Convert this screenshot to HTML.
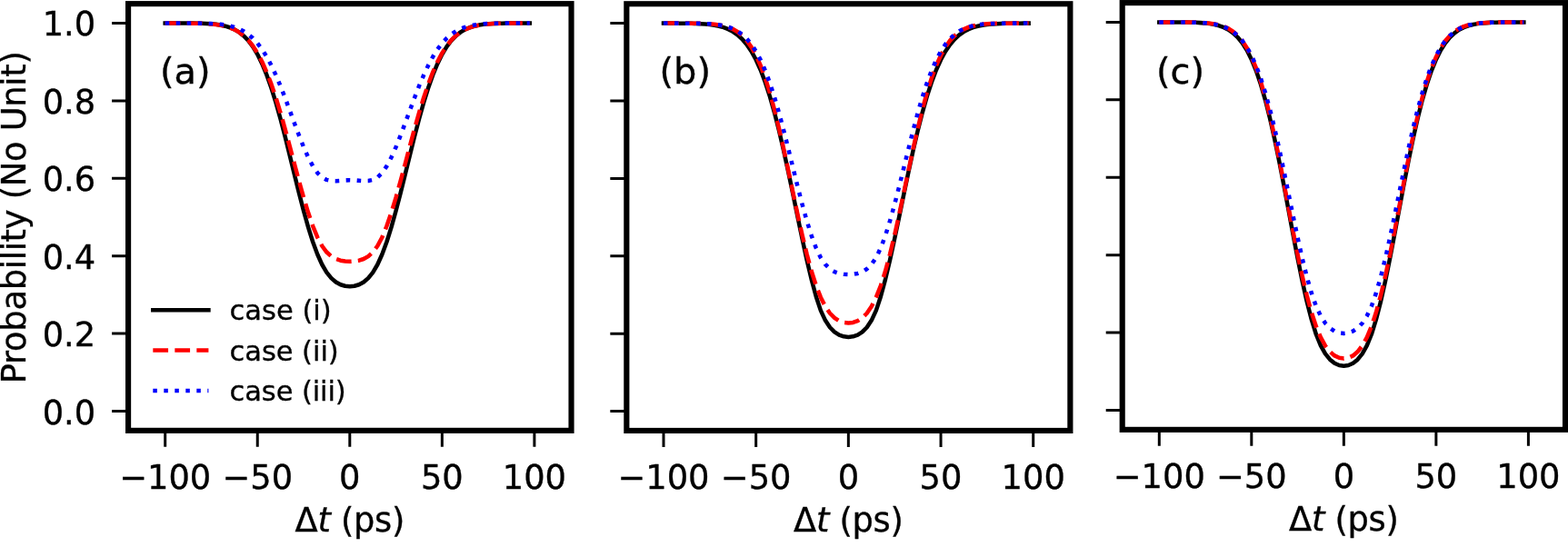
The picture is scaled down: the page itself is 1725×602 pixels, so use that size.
<!DOCTYPE html>
<html><head><meta charset="utf-8"><title>HOM dips</title>
<style>html,body{margin:0;padding:0;background:#fff;}svg{display:block;}text{font-family:'DejaVu Sans','Liberation Sans',sans-serif;fill:#000;stroke:#000;stroke-width:0.35px;}</style></head><body>
<svg width="1725" height="602" viewBox="0 0 1725 602">
<rect x="0" y="0" width="1725" height="602" fill="#fff"/>
<path d="M181.7 25.5 L186.78 25.51 L191.85 25.51 L196.93 25.52 L202.01 25.54 L207.09 25.57 L212.16 25.61 L217.24 25.7 L222.32 25.83 L227.4 26.03 L232.47 26.36 L237.55 26.86 L242.63 27.6 L247.71 28.68 L252.78 30.24 L257.86 32.42 L262.94 35.4 L268.02 39.41 L273.1 44.67 L278.17 51.4 L283.25 59.83 L288.33 70.15 L293.4 82.48 L298.48 96.84 L303.56 113.16 L308.64 131.22 L313.72 150.69 L318.79 171.1 L323.87 191.88 L328.95 212.39 L334.02 232.01 L339.1 250.14 L344.18 266.27 L349.26 280.05 L354.34 291.23 L359.41 299.81 L364.49 306.12 L369.57 310.48 L374.64 313.27 L379.72 314.79 L384.8 315.28 L389.88 314.79 L394.96 313.27 L400.03 310.48 L405.11 306.12 L410.19 299.81 L415.26 291.23 L420.34 280.05 L425.42 266.27 L430.5 250.14 L435.58 232.01 L440.65 212.39 L445.73 191.88 L450.81 171.1 L455.88 150.69 L460.96 131.22 L466.04 113.16 L471.12 96.84 L476.2 82.48 L481.27 70.15 L486.35 59.83 L491.43 51.4 L496.5 44.67 L501.58 39.41 L506.66 35.4 L511.74 32.42 L516.82 30.24 L521.89 28.68 L526.97 27.6 L532.05 26.86 L537.12 26.36 L542.2 26.03 L547.28 25.83 L552.36 25.7 L557.44 25.61 L562.51 25.57 L567.59 25.54 L572.67 25.52 L577.75 25.51 L582.82 25.51" fill="none" stroke="#000000" stroke-width="4.53" stroke-linejoin="round" stroke-linecap="square"/>
<path d="M181.7 25.5 L186.78 25.51 L191.85 25.52 L196.93 25.53 L202.01 25.55 L207.09 25.58 L212.16 25.64 L217.24 25.73 L222.32 25.88 L227.4 26.1 L232.47 26.45 L237.55 26.96 L242.63 27.72 L247.71 28.81 L252.78 30.36 L257.86 32.49 L262.94 35.37 L268.02 39.2 L273.1 44.18 L278.17 50.51 L283.25 58.39 L288.33 67.98 L293.4 79.39 L298.48 92.64 L303.56 107.68 L308.64 124.32 L313.72 142.26 L318.79 161.07 L323.87 180.25 L328.95 199.21 L334.02 217.33 L339.1 234.04 L344.18 248.81 L349.26 261.2 L354.34 270.75 L359.41 277.52 L364.49 282.12 L369.57 285.02 L374.64 286.69 L379.72 287.52 L384.8 287.77 L389.88 287.52 L394.96 286.69 L400.03 285.02 L405.11 282.12 L410.19 277.52 L415.26 270.75 L420.34 261.2 L425.42 248.81 L430.5 234.04 L435.58 217.33 L440.65 199.21 L445.73 180.25 L450.81 161.07 L455.88 142.26 L460.96 124.32 L466.04 107.68 L471.12 92.64 L476.2 79.39 L481.27 67.98 L486.35 58.39 L491.43 50.51 L496.5 44.18 L501.58 39.2 L506.66 35.37 L511.74 32.49 L516.82 30.36 L521.89 28.81 L526.97 27.72 L532.05 26.96 L537.12 26.45 L542.2 26.1 L547.28 25.88 L552.36 25.73 L557.44 25.64 L562.51 25.58 L567.59 25.55 L572.67 25.53 L577.75 25.52 L582.82 25.51" fill="none" stroke="#ff0000" stroke-width="4.53" stroke-linejoin="round" stroke-linecap="butt" stroke-dasharray="16.76 7.25"/>
<path d="M181.7 25.5 L186.78 25.5 L191.85 25.51 L196.93 25.51 L202.01 25.52 L207.09 25.54 L212.16 25.57 L217.24 25.62 L222.32 25.71 L227.4 25.84 L232.47 26.04 L237.55 26.35 L242.63 26.82 L247.71 27.5 L252.78 28.49 L257.86 29.87 L262.94 31.77 L268.02 34.34 L273.1 37.72 L278.17 42.08 L283.25 47.57 L288.33 54.33 L293.4 62.46 L298.48 71.98 L303.56 82.85 L308.64 94.93 L313.72 107.98 L318.79 121.65 L323.87 135.51 L328.95 149.07 L334.02 161.81 L339.1 173.22 L344.18 182.87 L349.26 190.35 L354.34 195.21 L359.41 197.88 L364.49 199 L369.57 199.14 L374.64 198.8 L379.72 198.4 L384.8 198.24 L389.88 198.4 L394.96 198.8 L400.03 199.14 L405.11 199 L410.19 197.88 L415.26 195.21 L420.34 190.35 L425.42 182.87 L430.5 173.22 L435.58 161.81 L440.65 149.07 L445.73 135.51 L450.81 121.65 L455.88 107.98 L460.96 94.93 L466.04 82.85 L471.12 71.98 L476.2 62.46 L481.27 54.33 L486.35 47.57 L491.43 42.08 L496.5 37.72 L501.58 34.34 L506.66 31.77 L511.74 29.87 L516.82 28.49 L521.89 27.5 L526.97 26.82 L532.05 26.35 L537.12 26.04 L542.2 25.84 L547.28 25.71 L552.36 25.62 L557.44 25.57 L562.51 25.54 L567.59 25.52 L572.67 25.51 L577.75 25.51 L582.82 25.5" fill="none" stroke="#0000ff" stroke-width="4.53" stroke-linejoin="round" stroke-linecap="butt" stroke-dasharray="4.53 7.47"/>
<rect x="141.08" y="4.15" width="487.44" height="469.7" fill="none" stroke="#000" stroke-width="6.15" stroke-linejoin="miter"/>
<path d="M123.08 452.5H141.08M123.08 367.1H141.08M123.08 281.7H141.08M123.08 196.3H141.08M123.08 110.9H141.08M123.08 25.5H141.08M181.7 473.85V491.85M283.25 473.85V491.85M384.8 473.85V491.85M486.35 473.85V491.85M587.9 473.85V491.85" stroke="#000" stroke-width="3" fill="none"/>
<text x="181.7" y="537.9" font-size="36.8" text-anchor="middle">−100</text>
<text x="283.25" y="537.9" font-size="36.8" text-anchor="middle">−50</text>
<text x="384.8" y="537.9" font-size="36.8" text-anchor="middle">0</text>
<text x="486.35" y="537.9" font-size="36.8" text-anchor="middle">50</text>
<text x="587.9" y="537.9" font-size="36.8" text-anchor="middle">100</text>
<text x="105.2" y="467" font-size="36.8" text-anchor="end">0.0</text>
<text x="105.2" y="381" font-size="36.8" text-anchor="end">0.2</text>
<text x="105.2" y="296" font-size="36.8" text-anchor="end">0.4</text>
<text x="105.2" y="210" font-size="36.8" text-anchor="end">0.6</text>
<text x="105.2" y="125" font-size="36.8" text-anchor="end">0.8</text>
<text x="105.2" y="39" font-size="36.8" text-anchor="end">1.0</text>
<text x="324.5" y="584.9" font-size="36.8" textLength="120.8" lengthAdjust="spacing">Δ<tspan font-style="italic">t</tspan> (ps)</text>
<text x="176" y="92.4" font-size="39.9">(a)</text>
<path d="M730 25.61 L735.08 25.62 L740.17 25.63 L745.25 25.66 L750.34 25.69 L755.42 25.75 L760.5 25.85 L765.59 25.99 L770.67 26.21 L775.75 26.55 L780.84 27.04 L785.92 27.75 L791 28.76 L796.09 30.19 L801.17 32.15 L806.26 34.81 L811.34 38.36 L816.42 42.99 L821.51 48.95 L826.59 56.46 L831.67 65.75 L836.76 77.03 L841.84 90.46 L846.93 106.13 L852.01 124.02 L857.09 144.02 L862.18 165.89 L867.26 189.25 L872.35 213.58 L877.43 238.27 L882.51 262.63 L887.6 285.9 L892.68 307.35 L897.76 326.22 L902.85 341.63 L907.93 352.59 L913.01 360.28 L918.1 365.43 L923.18 368.65 L928.27 370.37 L933.35 370.92 L938.43 370.37 L943.52 368.65 L948.6 365.43 L953.69 360.28 L958.77 352.59 L963.85 341.63 L968.94 326.22 L974.02 307.35 L979.1 285.9 L984.19 262.63 L989.27 238.27 L994.36 213.58 L999.44 189.25 L1004.52 165.89 L1009.61 144.02 L1014.69 124.02 L1019.77 106.13 L1024.86 90.46 L1029.94 77.03 L1035.03 65.75 L1040.11 56.46 L1045.19 48.95 L1050.28 42.99 L1055.36 38.36 L1060.44 34.81 L1065.53 32.15 L1070.61 30.19 L1075.69 28.76 L1080.78 27.75 L1085.86 27.04 L1090.95 26.55 L1096.03 26.21 L1101.11 25.99 L1106.2 25.85 L1111.28 25.75 L1116.37 25.69 L1121.45 25.66 L1126.53 25.63 L1131.62 25.62" fill="none" stroke="#000000" stroke-width="4.53" stroke-linejoin="round" stroke-linecap="square"/>
<path d="M730 25.6 L735.08 25.6 L740.17 25.61 L745.25 25.61 L750.34 25.62 L755.42 25.64 L760.5 25.68 L765.59 25.74 L770.67 25.85 L775.75 26.02 L780.84 26.3 L785.92 26.73 L791 27.41 L796.09 28.42 L801.17 29.91 L806.26 32.04 L811.34 35.04 L816.42 39.15 L821.51 44.65 L826.59 51.82 L831.67 60.95 L836.76 72.29 L841.84 86.01 L846.93 102.19 L852.01 120.76 L857.09 141.48 L862.18 163.96 L867.26 187.63 L872.35 211.81 L877.43 235.71 L882.51 258.55 L887.6 279.61 L892.68 298.3 L897.76 314.23 L902.85 327.2 L907.93 337.29 L913.01 344.72 L918.1 349.87 L923.18 353.15 L928.27 354.95 L933.35 355.51 L938.43 354.95 L943.52 353.15 L948.6 349.87 L953.69 344.72 L958.77 337.29 L963.85 327.2 L968.94 314.23 L974.02 298.3 L979.1 279.61 L984.19 258.55 L989.27 235.71 L994.36 211.81 L999.44 187.63 L1004.52 163.96 L1009.61 141.48 L1014.69 120.76 L1019.77 102.19 L1024.86 86.01 L1029.94 72.29 L1035.03 60.95 L1040.11 51.82 L1045.19 44.65 L1050.28 39.15 L1055.36 35.04 L1060.44 32.04 L1065.53 29.91 L1070.61 28.42 L1075.69 27.41 L1080.78 26.73 L1085.86 26.3 L1090.95 26.02 L1096.03 25.85 L1101.11 25.74 L1106.2 25.68 L1111.28 25.64 L1116.37 25.62 L1121.45 25.61 L1126.53 25.61 L1131.62 25.6" fill="none" stroke="#ff0000" stroke-width="4.53" stroke-linejoin="round" stroke-linecap="butt" stroke-dasharray="16.76 7.25"/>
<path d="M730 25.6 L735.08 25.6 L740.17 25.61 L745.25 25.62 L750.34 25.63 L755.42 25.65 L760.5 25.7 L765.59 25.76 L770.67 25.87 L775.75 26.05 L780.84 26.32 L785.92 26.75 L791 27.39 L796.09 28.33 L801.17 29.68 L806.26 31.6 L811.34 34.25 L816.42 37.83 L821.51 42.58 L826.59 48.72 L831.67 56.49 L836.76 66.09 L841.84 77.68 L846.93 91.31 L852.01 106.97 L857.09 124.48 L862.18 143.53 L867.26 163.69 L872.35 184.39 L877.43 204.97 L882.51 224.74 L887.6 243.03 L892.68 259.24 L897.76 272.87 L902.85 283.45 L907.93 290.95 L913.01 296 L918.1 299.15 L923.18 300.95 L928.27 301.82 L933.35 302.08 L938.43 301.82 L943.52 300.95 L948.6 299.15 L953.69 296 L958.77 290.95 L963.85 283.45 L968.94 272.87 L974.02 259.24 L979.1 243.03 L984.19 224.74 L989.27 204.97 L994.36 184.39 L999.44 163.69 L1004.52 143.53 L1009.61 124.48 L1014.69 106.97 L1019.77 91.31 L1024.86 77.68 L1029.94 66.09 L1035.03 56.49 L1040.11 48.72 L1045.19 42.58 L1050.28 37.83 L1055.36 34.25 L1060.44 31.6 L1065.53 29.68 L1070.61 28.33 L1075.69 27.39 L1080.78 26.75 L1085.86 26.32 L1090.95 26.05 L1096.03 25.87 L1101.11 25.76 L1106.2 25.7 L1111.28 25.65 L1116.37 25.63 L1121.45 25.62 L1126.53 25.61 L1131.62 25.6" fill="none" stroke="#0000ff" stroke-width="4.53" stroke-linejoin="round" stroke-linecap="butt" stroke-dasharray="4.53 7.47"/>
<rect x="689.33" y="4.25" width="488.04" height="469.7" fill="none" stroke="#000" stroke-width="6.15" stroke-linejoin="miter"/>
<path d="M671.33 452.6H689.33M671.33 367.2H689.33M671.33 281.8H689.33M671.33 196.4H689.33M671.33 111H689.33M671.33 25.6H689.33M730 473.95V491.95M831.67 473.95V491.95M933.35 473.95V491.95M1035.03 473.95V491.95M1136.7 473.95V491.95" stroke="#000" stroke-width="3" fill="none"/>
<text x="730" y="537.9" font-size="36.8" text-anchor="middle">−100</text>
<text x="831.67" y="537.9" font-size="36.8" text-anchor="middle">−50</text>
<text x="933.35" y="537.9" font-size="36.8" text-anchor="middle">0</text>
<text x="1035.03" y="537.9" font-size="36.8" text-anchor="middle">50</text>
<text x="1136.7" y="537.9" font-size="36.8" text-anchor="middle">100</text>
<text x="873.05" y="584.9" font-size="36.8" textLength="120.8" lengthAdjust="spacing">Δ<tspan font-style="italic">t</tspan> (ps)</text>
<text x="725.5" y="92.4" font-size="39.9">(b)</text>
<path d="M1275.3 24.45 L1280.38 24.46 L1285.45 24.47 L1290.53 24.48 L1295.61 24.5 L1300.68 24.54 L1305.76 24.6 L1310.83 24.7 L1315.91 24.86 L1320.99 25.12 L1326.06 25.51 L1331.14 26.11 L1336.21 27 L1341.29 28.3 L1346.37 30.15 L1351.44 32.74 L1356.52 36.29 L1361.6 41.04 L1366.67 47.28 L1371.75 55.31 L1376.82 65.4 L1381.9 77.82 L1386.98 92.75 L1392.05 110.29 L1397.13 130.4 L1402.21 152.92 L1407.28 177.5 L1412.36 203.62 L1417.43 230.64 L1422.51 257.8 L1427.59 284.26 L1432.66 309.21 L1437.74 331.9 L1442.82 351.68 L1447.89 367.96 L1452.97 380.31 L1458.04 389.37 L1463.12 395.69 L1468.2 399.76 L1473.27 402.01 L1478.35 402.72 L1483.43 402.01 L1488.5 399.76 L1493.58 395.69 L1498.65 389.37 L1503.73 380.31 L1508.81 367.96 L1513.88 351.68 L1518.96 331.9 L1524.04 309.21 L1529.11 284.26 L1534.19 257.8 L1539.26 230.64 L1544.34 203.62 L1549.42 177.5 L1554.49 152.92 L1559.57 130.4 L1564.65 110.29 L1569.72 92.75 L1574.8 77.82 L1579.88 65.4 L1584.95 55.31 L1590.03 47.28 L1595.1 41.04 L1600.18 36.29 L1605.26 32.74 L1610.33 30.15 L1615.41 28.3 L1620.48 27 L1625.56 26.11 L1630.64 25.51 L1635.71 25.12 L1640.79 24.86 L1645.87 24.7 L1650.94 24.6 L1656.02 24.54 L1661.09 24.5 L1666.17 24.48 L1671.25 24.47 L1676.32 24.46" fill="none" stroke="#000000" stroke-width="4.53" stroke-linejoin="round" stroke-linecap="square"/>
<path d="M1275.3 24.45 L1280.38 24.45 L1285.45 24.46 L1290.53 24.46 L1295.61 24.48 L1300.68 24.5 L1305.76 24.54 L1310.83 24.61 L1315.91 24.72 L1320.99 24.91 L1326.06 25.21 L1331.14 25.68 L1336.21 26.41 L1341.29 27.51 L1346.37 29.12 L1351.44 31.43 L1356.52 34.67 L1361.6 39.11 L1366.67 45.05 L1371.75 52.8 L1376.82 62.69 L1381.9 74.97 L1386.98 89.86 L1392.05 107.45 L1397.13 127.68 L1402.21 150.32 L1407.28 174.97 L1412.36 201.04 L1417.43 227.79 L1422.51 254.41 L1427.59 280.04 L1432.66 303.89 L1437.74 325.3 L1442.82 343.79 L1447.89 359.14 L1452.97 371.32 L1458.04 380.53 L1463.12 387.1 L1468.2 391.41 L1473.27 393.83 L1478.35 394.61 L1483.43 393.83 L1488.5 391.41 L1493.58 387.1 L1498.65 380.53 L1503.73 371.32 L1508.81 359.14 L1513.88 343.79 L1518.96 325.3 L1524.04 303.89 L1529.11 280.04 L1534.19 254.41 L1539.26 227.79 L1544.34 201.04 L1549.42 174.97 L1554.49 150.32 L1559.57 127.68 L1564.65 107.45 L1569.72 89.86 L1574.8 74.97 L1579.88 62.69 L1584.95 52.8 L1590.03 45.05 L1595.1 39.11 L1600.18 34.67 L1605.26 31.43 L1610.33 29.12 L1615.41 27.51 L1620.48 26.41 L1625.56 25.68 L1630.64 25.21 L1635.71 24.91 L1640.79 24.72 L1645.87 24.61 L1650.94 24.54 L1656.02 24.5 L1661.09 24.48 L1666.17 24.46 L1671.25 24.46 L1676.32 24.45" fill="none" stroke="#ff0000" stroke-width="4.53" stroke-linejoin="round" stroke-linecap="butt" stroke-dasharray="16.76 7.25"/>
<path d="M1275.3 24.45 L1280.38 24.46 L1285.45 24.46 L1290.53 24.47 L1295.61 24.49 L1300.68 24.52 L1305.76 24.57 L1310.83 24.66 L1315.91 24.8 L1320.99 25.02 L1326.06 25.36 L1331.14 25.88 L1336.21 26.66 L1341.29 27.8 L1346.37 29.44 L1351.44 31.74 L1356.52 34.91 L1361.6 39.18 L1366.67 44.81 L1371.75 52.07 L1376.82 61.24 L1381.9 72.54 L1386.98 86.17 L1392.05 102.21 L1397.13 120.65 L1402.21 141.3 L1407.28 163.84 L1412.36 187.81 L1417.43 212.57 L1422.51 237.41 L1427.59 261.56 L1432.66 284.24 L1437.74 304.76 L1442.82 322.52 L1447.89 336.98 L1452.97 347.83 L1458.04 355.68 L1463.12 361.06 L1468.2 364.45 L1473.27 366.3 L1478.35 366.89 L1483.43 366.3 L1488.5 364.45 L1493.58 361.06 L1498.65 355.68 L1503.73 347.83 L1508.81 336.98 L1513.88 322.52 L1518.96 304.76 L1524.04 284.24 L1529.11 261.56 L1534.19 237.41 L1539.26 212.57 L1544.34 187.81 L1549.42 163.84 L1554.49 141.3 L1559.57 120.65 L1564.65 102.21 L1569.72 86.17 L1574.8 72.54 L1579.88 61.24 L1584.95 52.07 L1590.03 44.81 L1595.1 39.18 L1600.18 34.91 L1605.26 31.74 L1610.33 29.44 L1615.41 27.8 L1620.48 26.66 L1625.56 25.88 L1630.64 25.36 L1635.71 25.02 L1640.79 24.8 L1645.87 24.66 L1650.94 24.57 L1656.02 24.52 L1661.09 24.49 L1666.17 24.47 L1671.25 24.46 L1676.32 24.46" fill="none" stroke="#0000ff" stroke-width="4.53" stroke-linejoin="round" stroke-linecap="butt" stroke-dasharray="4.53 7.47"/>
<rect x="1234.69" y="3.1" width="487.32" height="469.76" fill="none" stroke="#000" stroke-width="6.15" stroke-linejoin="miter"/>
<path d="M1216.69 451.5H1234.69M1216.69 366.09H1234.69M1216.69 280.68H1234.69M1216.69 195.27H1234.69M1216.69 109.86H1234.69M1216.69 24.45H1234.69M1275.3 472.85V490.85M1376.82 472.85V490.85M1478.35 472.85V490.85M1579.88 472.85V490.85M1681.4 472.85V490.85" stroke="#000" stroke-width="3" fill="none"/>
<text x="1275.3" y="536.7" font-size="36.8" text-anchor="middle">−100</text>
<text x="1376.82" y="536.7" font-size="36.8" text-anchor="middle">−50</text>
<text x="1478.35" y="536.7" font-size="36.8" text-anchor="middle">0</text>
<text x="1579.88" y="536.7" font-size="36.8" text-anchor="middle">50</text>
<text x="1681.4" y="536.7" font-size="36.8" text-anchor="middle">100</text>
<text x="1418.05" y="583.8" font-size="36.8" textLength="120.8" lengthAdjust="spacing">Δ<tspan font-style="italic">t</tspan> (ps)</text>
<text x="1272" y="92.2" font-size="39.9">(c)</text>
<text transform="translate(27.8 239.2) rotate(-90)" font-size="36.8" text-anchor="middle" textLength="366" lengthAdjust="spacing">Probability (No Unit)</text>
<path d="M168.3 341.25H229.4" fill="none" stroke="#000000" stroke-width="4.53" stroke-linecap="square"/>
<text x="252.6" y="352" font-size="30.5">case (i)</text>
<path d="M168.3 385.5H229.4" fill="none" stroke="#ff0000" stroke-width="4.53" stroke-linecap="butt" stroke-dasharray="16.76 7.25"/>
<text x="252.6" y="397" font-size="30.5" textLength="120.1" lengthAdjust="spacing">case (ii)</text>
<path d="M168.3 429.95H229.4" fill="none" stroke="#0000ff" stroke-width="4.53" stroke-linecap="butt" stroke-dasharray="4.53 7.47"/>
<text x="252.6" y="441" font-size="30.5" textLength="128.1" lengthAdjust="spacing">case (iii)</text>
</svg></body></html>
